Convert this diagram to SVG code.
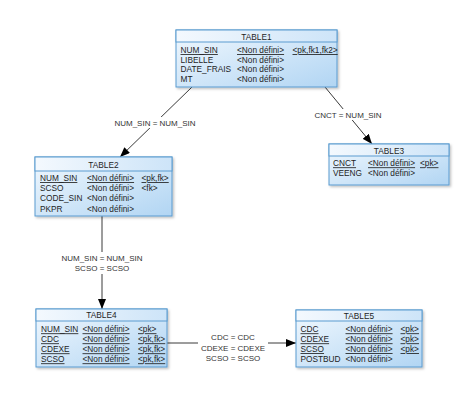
<svg xmlns="http://www.w3.org/2000/svg" width="474" height="402" viewBox="0 0 474 402">
<defs>
<linearGradient id="body" x1="0" y1="0" x2="1" y2="1">
<stop offset="0" stop-color="#f1f8fe"/>
<stop offset="1" stop-color="#b1d5f3"/>
</linearGradient>
<linearGradient id="head" x1="0" y1="0" x2="1" y2="0">
<stop offset="0" stop-color="#f4f9fe"/>
<stop offset="1" stop-color="#cde4f8"/>
</linearGradient>
<marker id="arr" markerUnits="userSpaceOnUse" markerWidth="10" markerHeight="8" refX="10" refY="4" orient="auto">
<path d="M0,0 L10,4 L0,8 z" fill="#000"/>
</marker>
<filter id="sh" x="-5%" y="-5%" width="115%" height="120%">
<feDropShadow dx="1.5" dy="1.5" stdDeviation="1" flood-color="#000" flood-opacity="0.25"/>
</filter>
</defs>
<style>
text{font-family:"Liberation Sans",Arial,sans-serif;font-size:8.3px;fill:#1e1e1e}
.h{text-anchor:middle}
.u{text-decoration:underline}
.lbl{font-size:8px;text-anchor:middle;fill:#333}
.box{fill:url(#body);stroke:#5a9bd0;stroke-width:1}
.hd{fill:url(#head);stroke:#5a9bd0;stroke-width:1}
.ln{stroke:#3a3a3a;stroke-width:1;fill:none}
.bg{fill:#fff}
</style>
<rect width="474" height="402" fill="#fff"/>
<g id="connectors">
<line class="ln" x1="192" y1="87" x2="120" y2="157" marker-end="url(#arr)"/>
<line class="ln" x1="325" y1="87" x2="372" y2="144" marker-end="url(#arr)"/>
<line class="ln" x1="102" y1="216" x2="102" y2="309" marker-end="url(#arr)"/>
<line class="ln" x1="167" y1="343" x2="296" y2="343" marker-end="url(#arr)"/>
<rect class="bg" x="114" y="117" width="82" height="11"/>
<text class="lbl" x="155" y="126">NUM_SIN = NUM_SIN</text>
<rect class="bg" x="317" y="109" width="63" height="11"/>
<text class="lbl" x="348" y="118">CNCT = NUM_SIN</text>
<rect class="bg" x="61" y="252" width="82" height="22"/>
<text class="lbl" x="102" y="260.5">NUM_SIN = NUM_SIN</text>
<text class="lbl" x="102" y="271">SCSO = SCSO</text>
<rect class="bg" x="198" y="331" width="70" height="32"/>
<text class="lbl" x="233" y="340">CDC = CDC</text>
<text class="lbl" x="233" y="350.5">CDEXE = CDEXE</text>
<text class="lbl" x="233" y="360.5">SCSO = SCSO</text>
</g>
<g id="table1">
<rect class="box" x="176" y="30" width="161" height="57" filter="url(#sh)"/>
<rect class="hd" x="176" y="30" width="161" height="12"/>
<text class="h" x="256.5" y="40">TABLE1</text>
<text class="u" x="180.5" y="53">NUM_SIN</text>
<text class="u" x="237" y="53">&lt;Non défini&gt;</text>
<text class="u" x="292.5" y="53">&lt;pk,fk1,fk2&gt;</text>
<text x="180.5" y="62.5">LIBELLE</text>
<text x="237" y="62.5">&lt;Non défini&gt;</text>
<text x="180.5" y="72.3">DATE_FRAIS</text>
<text x="237" y="72.3">&lt;Non défini&gt;</text>
<text x="180.5" y="82">MT</text>
<text x="237" y="82">&lt;Non défini&gt;</text>
</g>
<g id="table2">
<rect class="box" x="35" y="157" width="137" height="59" filter="url(#sh)"/>
<rect class="hd" x="35" y="157" width="137" height="14"/>
<text class="h" x="103.5" y="168">TABLE2</text>
<text class="u" x="40" y="181">NUM_SIN</text>
<text class="u" x="87" y="181">&lt;Non défini&gt;</text>
<text class="u" x="141.5" y="181">&lt;pk,fk&gt;</text>
<text x="40" y="191">SCSO</text>
<text x="87" y="191">&lt;Non défini&gt;</text>
<text x="141.5" y="191">&lt;fk&gt;</text>
<text x="40" y="201.2">CODE_SIN</text>
<text x="87" y="201.2">&lt;Non défini&gt;</text>
<text x="40" y="211.5">PKPR</text>
<text x="87" y="211.5">&lt;Non défini&gt;</text>
</g>
<g id="table3">
<rect class="box" x="329" y="144" width="120" height="41" filter="url(#sh)"/>
<rect class="hd" x="329" y="144" width="120" height="12"/>
<text class="h" x="389" y="153.5">TABLE3</text>
<text class="u" x="333" y="166.3">CNCT</text>
<text class="u" x="368" y="166.3">&lt;Non défini&gt;</text>
<text class="u" x="420" y="166.3">&lt;pk&gt;</text>
<text x="333" y="176.3">VEENG</text>
<text x="368" y="176.3">&lt;Non défini&gt;</text>
</g>
<g id="table4">
<rect class="box" x="36" y="309" width="131" height="58" filter="url(#sh)"/>
<rect class="hd" x="36" y="309" width="131" height="12"/>
<text class="h" x="101.5" y="318">TABLE4</text>
<text class="u" x="41" y="332.3">NUM_SIN</text>
<text class="u" x="82.5" y="332.3">&lt;Non défini&gt;</text>
<text class="u" x="138" y="332.3">&lt;pk&gt;</text>
<text class="u" x="41" y="342.3">CDC</text>
<text class="u" x="82.5" y="342.3">&lt;Non défini&gt;</text>
<text class="u" x="138" y="342.3">&lt;pk,fk&gt;</text>
<text class="u" x="41" y="352.3">CDEXE</text>
<text class="u" x="82.5" y="352.3">&lt;Non défini&gt;</text>
<text class="u" x="138" y="352.3">&lt;pk,fk&gt;</text>
<text class="u" x="41" y="362.3">SCSO</text>
<text class="u" x="82.5" y="362.3">&lt;Non défini&gt;</text>
<text class="u" x="138" y="362.3">&lt;pk,fk&gt;</text>
</g>
<g id="table5">
<rect class="box" x="296" y="310" width="126" height="57" filter="url(#sh)"/>
<rect class="hd" x="296" y="310" width="126" height="11"/>
<text class="h" x="359" y="318.5">TABLE5</text>
<text class="u" x="300.5" y="332.3">CDC</text>
<text class="u" x="345.5" y="332.3">&lt;Non défini&gt;</text>
<text class="u" x="400.5" y="332.3">&lt;pk&gt;</text>
<text class="u" x="300.5" y="342.3">CDEXE</text>
<text class="u" x="345.5" y="342.3">&lt;Non défini&gt;</text>
<text class="u" x="400.5" y="342.3">&lt;pk&gt;</text>
<text class="u" x="300.5" y="352">SCSO</text>
<text class="u" x="345.5" y="352">&lt;Non défini&gt;</text>
<text class="u" x="400.5" y="352">&lt;pk&gt;</text>
<text x="300.5" y="362">POSTBUD</text>
<text x="345.5" y="362">&lt;Non défini&gt;</text>
</g>
</svg>
